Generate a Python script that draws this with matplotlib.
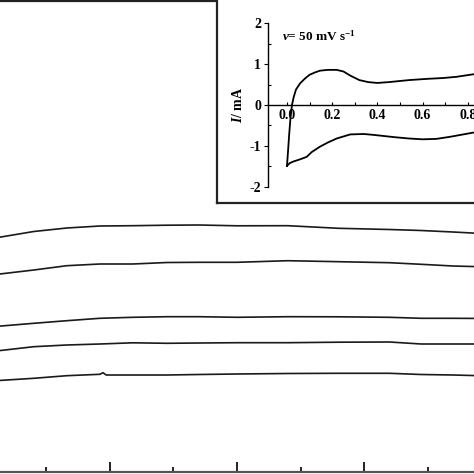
import numpy as np
import matplotlib.pyplot as plt
from matplotlib.ticker import MultipleLocator

plt.rcParams['font.family'] = ['Liberation Serif', 'DejaVu Serif']
plt.rcParams['mathtext.fontset'] = 'custom'
plt.rcParams['mathtext.rm'] = 'Liberation Serif'
plt.rcParams['mathtext.bf'] = 'Liberation Serif:bold'
plt.rcParams['mathtext.it'] = 'Liberation Serif:italic'
try:
    plt.rcParams['mathtext.bfit'] = 'Liberation Serif:italic:bold'
except KeyError:
    pass

# main traces (cropped view, arbitrary units)
x_main = [0.0, 0.4, 0.66, 0.92, 1.18, 1.45, 1.7, 2.0, 2.4, 2.8, 3.2, 3.45, 3.7, 4.0]
trace1 = [2.32, 2.405, 2.44, 2.46, 2.463, 2.468, 2.47, 2.462, 2.463, 2.437, 2.425, 2.415, 2.40, 2.38]
trace2 = [1.96, 2.02, 2.063, 2.08, 2.08, 2.095, 2.097, 2.097, 2.113, 2.103, 2.093, 2.077, 2.06, 2.05]
trace3 = [1.445, 1.487, 1.513, 1.537, 1.547, 1.553, 1.553, 1.547, 1.553, 1.552, 1.547, 1.537, 1.537, 1.535]
trace4 = [1.195, 1.253, 1.27, 1.28, 1.292, 1.287, 1.29, 1.293, 1.293, 1.298, 1.30, 1.28, 1.28, 1.28]
x_trace5 = [0.0, 0.4, 0.66, 0.92, 0.945, 0.97, 1.18, 1.45, 1.7, 2.0, 2.4, 2.8, 3.2, 3.45, 3.7, 4.0]
trace5 = [0.905, 0.937, 0.963, 0.977, 0.993, 0.97, 0.97, 0.97, 0.975, 0.98, 0.985, 0.987, 0.987, 0.975, 0.97, 0.96]

# inset cyclic voltammogram
cv_fwd_x = [0.0, 0.005, 0.01, 0.015, 0.022, 0.03, 0.04, 0.058, 0.08, 0.10, 0.125, 0.146, 0.18, 0.22,
            0.25, 0.28, 0.32, 0.36, 0.40, 0.45, 0.54, 0.62, 0.69, 0.75, 0.81, 0.86, 0.9]
cv_fwd_y = [-1.49, -1.1, -0.7, -0.35, 0.0, 0.2, 0.38, 0.53, 0.65, 0.74, 0.80, 0.84, 0.86, 0.86,
            0.82, 0.72, 0.61, 0.56, 0.54, 0.56, 0.61, 0.64, 0.66, 0.69, 0.74, 0.78, 0.82]
cv_rev_x = [0.9, 0.86, 0.82, 0.77, 0.72, 0.66, 0.6, 0.54, 0.48, 0.43, 0.38, 0.34, 0.28, 0.22,
            0.18, 0.146, 0.11, 0.087, 0.058, 0.03, 0.013, 0.0]
cv_rev_y = [-0.62, -0.65, -0.68, -0.73, -0.78, -0.83, -0.84, -0.82, -0.79, -0.76, -0.73, -0.71, -0.72, -0.82,
            -0.92, -1.02, -1.15, -1.27, -1.33, -1.38, -1.42, -1.49]

fig = plt.figure(figsize=(4.74, 4.74), dpi=100)

ax = fig.add_axes([0, 2 / 474, 1, 471 / 474])
for y in (trace1, trace2, trace3, trace4):
    ax.plot(x_main, y, color='#1a1a1a', lw=1.2)
ax.plot(x_trace5, trace5, color='#1a1a1a', lw=1.2)
ax.set_xlim(0.134, 3.866)
ax.set_ylim(0, 4.71)
ax.spines['left'].set_visible(False)
ax.spines['right'].set_visible(False)
ax.spines['top'].set_linewidth(1.6)
ax.spines['top'].set_color('#222222')
ax.spines['bottom'].set_linewidth(1.6)
ax.spines['bottom'].set_color('#555555')
ax.xaxis.set_major_locator(MultipleLocator(1))
ax.xaxis.set_minor_locator(MultipleLocator(0.5))
ax.tick_params(axis='x', which='major', direction='in', length=7, width=1.3, color='#111111',
               labelbottom=False, top=False)
ax.tick_params(axis='x', which='minor', direction='in', length=3.5, width=1.3, color='#111111', top=False)
ax.set_yticks([])

# inset frame
box = fig.add_axes([217 / 474, 271 / 474, 0.6, 0.5], zorder=3)
box.set_xticks([])
box.set_yticks([])
for s in box.spines.values():
    s.set_linewidth(1.6)
    s.set_color('#222222')

ins = fig.add_axes([268 / 474, (474 - 186.7) / 474, 252 / 474, 163.4 / 474], zorder=4)
ins.patch.set_visible(False)
ins.plot(cv_fwd_x + cv_rev_x, cv_fwd_y + cv_rev_y, color='black', lw=1.3)
ins.set_xlim(-0.084, 1.031)
ins.set_ylim(-2, 2)
ins.spines['top'].set_visible(False)
ins.spines['right'].set_visible(False)
ins.spines['bottom'].set_position(('data', 0))
ins.spines['left'].set_linewidth(1.0)
ins.spines['bottom'].set_linewidth(1.0)
ins.set_xticks([0.0, 0.2, 0.4, 0.6, 0.8])
ins.set_xticklabels(['0.0', '0.2', '0.4', '0.6', '0.8'], fontweight='bold', fontsize=10)
ins.xaxis.set_minor_locator(MultipleLocator(0.1))
ins.tick_params(axis='x', which='both', direction='in', length=2, width=0.8, pad=3)
ins.set_yticks([-2, -1, 0, 1, 2])
ins.set_yticklabels(['-2', '-1', '0', '1', '2'], fontweight='bold', fontsize=10)
ins.yaxis.set_minor_locator(MultipleLocator(0.5))
ins.tick_params(axis='y', which='major', direction='out', length=3, width=0.8, pad=2)
ins.tick_params(axis='y', which='minor', direction='in', length=2, width=0.8)
ins.set_ylabel(r'$\mathbfit{I}$/ mA', fontweight='bold', fontsize=10, labelpad=3)
ins.text(-0.02, 1.67, r'$\mathbfit{\nu}$= 50 mV s$^{\mathbf{-1}}$', fontsize=9.5, fontweight='bold',
         va='center', ha='left')

fig.savefig('out.png', dpi=100)
